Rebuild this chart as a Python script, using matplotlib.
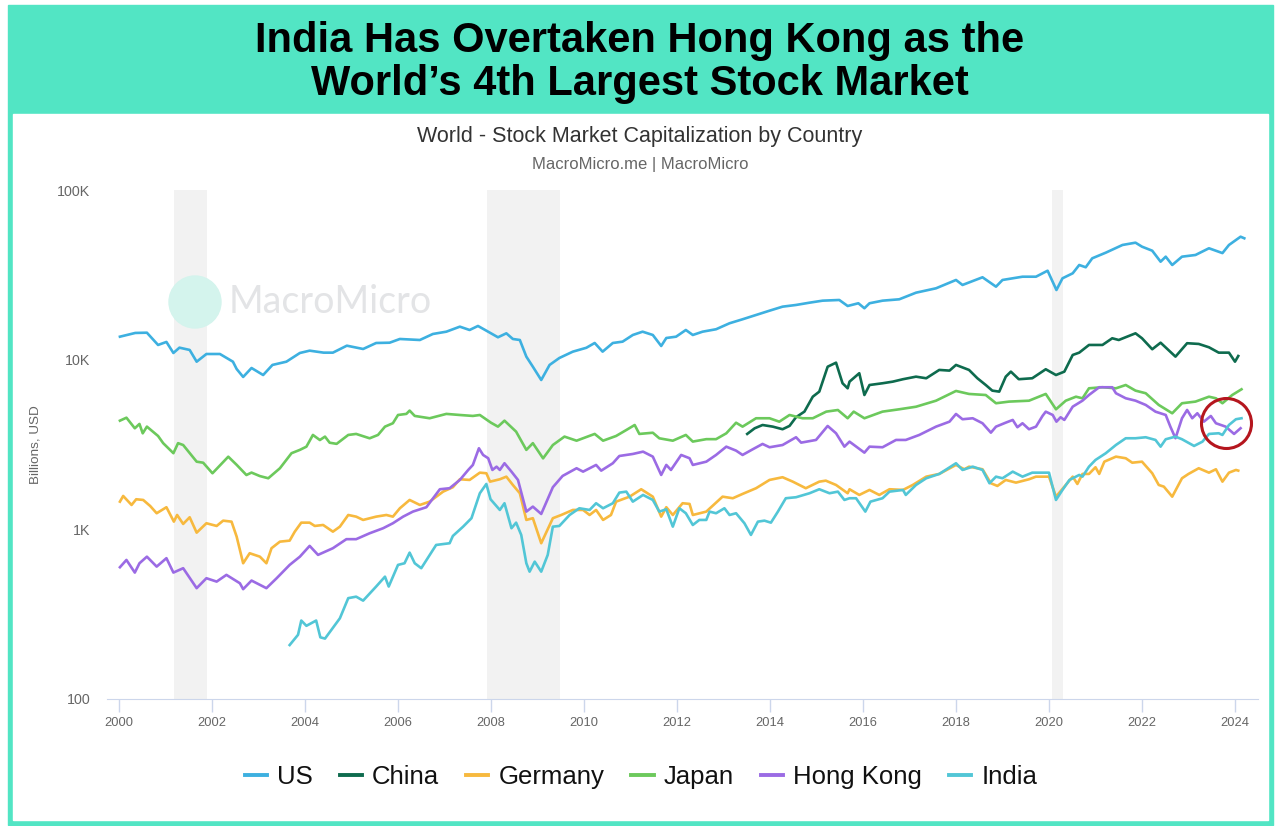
import matplotlib
matplotlib.use("Agg")
import matplotlib.pyplot as plt
from matplotlib.patches import Rectangle, Ellipse
from matplotlib.lines import Line2D
from matplotlib.ticker import NullLocator

plt.rcParams['font.family'] = ['Liberation Sans', 'DejaVu Sans']

# ---- data (billions USD; x = decimal year) ----
us_year = [2000.02, 2000.35, 2000.6, 2000.84, 2001.02, 2001.17, 2001.3, 2001.52, 2001.67, 2001.88,
           2002.17, 2002.45, 2002.53, 2002.67, 2002.85, 2003.1, 2003.3, 2003.6, 2003.89, 2004.1,
           2004.4, 2004.6, 2004.9, 2005.25, 2005.53, 2005.82, 2006.04, 2006.47, 2006.75, 2007.04,
           2007.33, 2007.54, 2007.72, 2007.9, 2008.15, 2008.33, 2008.47, 2008.62, 2008.76, 2008.9,
           2009.08, 2009.26, 2009.47, 2009.76, 2010.05, 2010.23, 2010.4, 2010.62, 2010.83, 2011.05,
           2011.26, 2011.48, 2011.66, 2011.77, 2011.98, 2012.19, 2012.34, 2012.55, 2012.84, 2013.13,
           2013.41, 2013.7, 2013.99, 2014.27, 2014.56, 2014.85, 2015.13, 2015.49, 2015.67, 2015.9,
           2016.03, 2016.14, 2016.42, 2016.78, 2017.14, 2017.57, 2018.0, 2018.14, 2018.57, 2018.86,
           2019.0, 2019.22, 2019.43, 2019.72, 2019.97, 2020.16, 2020.29, 2020.51, 2020.65, 2020.79,
           2020.93, 2021.22, 2021.58, 2021.86, 2022.0, 2022.22, 2022.4, 2022.51, 2022.65, 2022.86,
           2023.15, 2023.44, 2023.73, 2023.87, 2024.12, 2024.2]
us_val = [13660, 14370, 14420, 12210, 12720, 10950, 11770, 11410, 9730, 10800,
          10800, 9730, 8810, 7910, 8930, 8120, 9310, 9730, 10950, 11300,
          11000, 11000, 12090, 11560, 12540, 12590, 13240, 13060, 14170, 14620,
          15650, 14960, 15800, 14820, 13550, 14300, 13240, 13060, 10420, 9090,
          7590, 9310, 10230, 11150, 11750, 12540, 11150, 12540, 12770, 13980,
          14620, 13980, 12040, 13420, 13660, 14960, 13980, 14620, 15110, 16390,
          17300, 18340, 19440, 20530, 21010, 21670, 22270, 22480, 20720, 21500,
          20090, 21500, 22270, 22690, 24820, 26340, 29490, 27560, 30590, 26930,
          29490, 30170, 30830, 30830, 33450, 25740, 30170, 32290, 36140, 35040,
          39580, 42710, 47420, 48930, 46340, 43880, 37800, 40460, 36140, 40460,
          41400, 45350, 42480, 47420, 53060, 51930]

china_year = [2013.51, 2013.67, 2013.84, 2014.06, 2014.27, 2014.42, 2014.56, 2014.74, 2014.92, 2015.06,
              2015.24, 2015.42, 2015.56, 2015.67, 2015.71, 2015.92, 2016.03, 2016.14, 2016.42, 2016.64,
              2016.86, 2017.14, 2017.36, 2017.64, 2017.86, 2018.0, 2018.28, 2018.46, 2018.64, 2018.78,
              2018.93, 2019.07, 2019.18, 2019.35, 2019.64, 2019.93, 2020.15, 2020.33, 2020.51, 2020.65,
              2020.86, 2021.15, 2021.36, 2021.5, 2021.86, 2022.0, 2022.22, 2022.4, 2022.72, 2022.97,
              2023.22, 2023.44, 2023.65, 2023.87, 2024.0, 2024.07]
china_val = [3650, 3940, 4120, 4030, 3890, 4070, 4580, 4940, 6050, 6480,
             9090, 9600, 7260, 6780, 7420, 8320, 6190, 7090, 7260, 7420,
             7670, 7940, 7770, 8700, 8620, 9310, 8700, 7770, 7090, 6570,
             6480, 7940, 8500, 7670, 7770, 8780, 8120, 8500, 10660, 11000,
             12210, 12210, 13370, 13060, 14300, 13370, 11520, 12590, 10420, 12500,
             12380, 11830, 11000, 11000, 9730, 10510]

germany_year = [2000.02, 2000.09, 2000.27, 2000.37, 2000.52, 2000.67, 2000.81, 2001.02, 2001.18, 2001.25,
                2001.38, 2001.52, 2001.67, 2001.88, 2002.1, 2002.24, 2002.42, 2002.53, 2002.6, 2002.67,
                2002.81, 2003.03, 2003.17, 2003.28, 2003.46, 2003.67, 2003.78, 2003.92, 2004.1, 2004.21,
                2004.39, 2004.6, 2004.75, 2004.93, 2005.1, 2005.25, 2005.53, 2005.75, 2005.89, 2006.04,
                2006.25, 2006.47, 2006.68, 2006.97, 2007.18, 2007.33, 2007.54, 2007.76, 2007.9, 2007.98,
                2008.19, 2008.33, 2008.47, 2008.62, 2008.76, 2008.9, 2009.08, 2009.33, 2009.51, 2009.76,
                2009.98, 2010.12, 2010.26, 2010.41, 2010.58, 2010.69, 2010.98, 2011.23, 2011.48, 2011.66,
                2011.77, 2011.91, 2012.12, 2012.27, 2012.34, 2012.63, 2012.98, 2013.2, 2013.41, 2013.7,
                2013.99, 2014.27, 2014.49, 2014.77, 2015.06, 2015.2, 2015.42, 2015.67, 2015.71, 2015.92,
                2016.14, 2016.35, 2016.57, 2016.86, 2017.07, 2017.36, 2017.64, 2018.0, 2018.18, 2018.28,
                2018.57, 2018.75, 2018.89, 2019.07, 2019.29, 2019.57, 2019.72, 2020.0, 2020.15, 2020.36,
                2020.51, 2020.61, 2020.72, 2020.86, 2021.0, 2021.08, 2021.19, 2021.44, 2021.65, 2021.79,
                2022.0, 2022.22, 2022.36, 2022.47, 2022.65, 2022.86, 2023.0, 2023.22, 2023.44, 2023.59,
                2023.73, 2023.87, 2024.02, 2024.07]
germany_val = [1456, 1573, 1392, 1504, 1490, 1373, 1244, 1350, 1110, 1215,
               1076, 1178, 956, 1086, 1047, 1125, 1110, 906, 756, 631,
               723, 690, 631, 774, 846, 858, 969, 1095, 1095, 1047,
               1061, 969, 1037, 1215, 1188, 1136, 1188, 1215, 1188, 1331,
               1490, 1392, 1456, 1668, 1771, 1973, 1955, 2158, 2141, 1910,
               1973, 2044, 1826, 1632, 1136, 1163, 828, 1163, 1215, 1301,
               1301, 1215, 1301, 1136, 1215, 1456, 1558, 1723, 1558, 1188,
               1350, 1215, 1425, 1412, 1215, 1272, 1558, 1525, 1617, 1747,
               1955, 2028, 1910, 1747, 1910, 1936, 1826, 1632, 1723, 1595,
               1707, 1595, 1723, 1707, 1826, 2044, 2121, 2396, 2260, 2341,
               2260, 1869, 1802, 1955, 1885, 1973, 2044, 2044, 1558, 1826,
               2044, 1851, 2121, 2121, 2322, 2121, 2505, 2682, 2624, 2470,
               2505, 2141, 1826, 1785, 1558, 2000, 2121, 2291, 2158, 2260,
               1910, 2158, 2239, 2218]

japan_year = [2000.02, 2000.16, 2000.34, 2000.44, 2000.51, 2000.6, 2000.84, 2000.95, 2001.17, 2001.27,
              2001.38, 2001.67, 2001.81, 2002.01, 2002.35, 2002.53, 2002.74, 2002.85, 2003.03, 2003.21,
              2003.46, 2003.71, 2003.89, 2004.03, 2004.17, 2004.32, 2004.43, 2004.53, 2004.68, 2004.93,
              2005.1, 2005.39, 2005.57, 2005.72, 2005.89, 2006.0, 2006.18, 2006.25, 2006.36, 2006.68,
              2007.04, 2007.33, 2007.61, 2007.76, 2008.0, 2008.15, 2008.29, 2008.54, 2008.76, 2008.9,
              2009.12, 2009.33, 2009.58, 2009.84, 2010.23, 2010.41, 2010.69, 2010.91, 2011.09, 2011.19,
              2011.48, 2011.62, 2011.91, 2012.19, 2012.34, 2012.63, 2012.84, 2013.06, 2013.27, 2013.41,
              2013.7, 2013.99, 2014.2, 2014.42, 2014.7, 2014.92, 2015.21, 2015.46, 2015.67, 2015.8,
              2016.03, 2016.42, 2016.78, 2017.14, 2017.57, 2018.0, 2018.28, 2018.64, 2018.86, 2019.14,
              2019.57, 2019.93, 2020.15, 2020.36, 2020.58, 2020.72, 2020.86, 2021.15, 2021.44, 2021.65,
              2021.86, 2022.08, 2022.36, 2022.65, 2022.86, 2023.15, 2023.44, 2023.59, 2023.73, 2023.94,
              2024.14]
japan_val = [4370, 4550, 3940, 4180, 3680, 4030, 3550, 3220, 2810, 3220,
             3140, 2505, 2470, 2140, 2680, 2400, 2090, 2160, 2060, 2000,
             2290, 2810, 2940, 3070, 3600, 3360, 3520, 3240, 3190, 3600,
             3650, 3440, 3600, 4030, 4220, 4720, 4790, 5010, 4660, 4515,
             4790, 4720, 4660, 4720, 4250, 4030, 4370, 3765, 2940, 3220,
             2620, 3140, 3520, 3330, 3650, 3330, 3550, 3850, 4120, 3650,
             3710, 3440, 3330, 3600, 3290, 3400, 3400, 3680, 4250, 4030,
             4515, 4515, 4310, 4720, 4515, 4515, 4940, 5050, 4515, 4940,
             4515, 4940, 5100, 5280, 5730, 6540, 6280, 6190, 5535, 5660,
             5730, 6280, 5100, 5730, 6050, 5920, 6780, 6880, 6780, 7090,
             6570, 6340, 5410, 4830, 5535, 5660, 6050, 5920, 5535, 6190,
             6690]

hk_year = [2000.02, 2000.16, 2000.34, 2000.44, 2000.6, 2000.81, 2001.02, 2001.17, 2001.38, 2001.67,
           2001.88, 2002.1, 2002.31, 2002.6, 2002.67, 2002.85, 2003.17, 2003.39, 2003.67, 2003.89,
           2004.1, 2004.28, 2004.6, 2004.89, 2005.1, 2005.39, 2005.68, 2005.89, 2006.11, 2006.32,
           2006.61, 2006.9, 2007.11, 2007.33, 2007.51, 2007.61, 2007.74, 2007.83, 2007.94, 2008.03,
           2008.12, 2008.19, 2008.29, 2008.44, 2008.58, 2008.76, 2008.9, 2009.08, 2009.33, 2009.54,
           2009.84, 2009.98, 2010.26, 2010.37, 2010.62, 2010.76, 2011.05, 2011.27, 2011.48, 2011.66,
           2011.77, 2011.87, 2012.09, 2012.27, 2012.34, 2012.63, 2012.84, 2013.06, 2013.27, 2013.41,
           2013.63, 2013.84, 2013.99, 2014.27, 2014.56, 2014.67, 2014.99, 2015.24, 2015.42, 2015.6,
           2015.71, 2016.03, 2016.14, 2016.42, 2016.71, 2016.92, 2017.21, 2017.57, 2017.86, 2018.0,
           2018.14, 2018.36, 2018.57, 2018.75, 2018.86, 2019.07, 2019.22, 2019.32, 2019.43, 2019.57,
           2019.72, 2019.86, 2019.93, 2020.08, 2020.16, 2020.25, 2020.33, 2020.51, 2020.72, 2020.86,
           2021.08, 2021.36, 2021.44, 2021.65, 2021.86, 2022.08, 2022.29, 2022.51, 2022.61, 2022.72,
           2022.86, 2022.97, 2023.08, 2023.19, 2023.33, 2023.48, 2023.59, 2023.8, 2023.98, 2024.12]
hk_val = [598, 660, 556, 631, 690, 603, 676, 556, 590, 450,
          515, 492, 539, 481, 444, 499, 450, 515, 617, 690,
          799, 707, 774, 875, 875, 948, 1015, 1086, 1188, 1272,
          1350, 1723, 1747, 1955, 2239, 2396, 3005, 2744, 2624, 2239,
          2341, 2239, 2452, 2188, 1955, 1272, 1361, 1232, 1771, 2064,
          2291, 2188, 2396, 2218, 2452, 2706, 2781, 2870, 2682, 2092,
          2396, 2239, 2744, 2624, 2396, 2505, 2744, 3071, 2910, 2744,
          2965, 3186, 3046, 3140, 3489, 3243, 3364, 4067, 3684, 3071,
          3287, 2831, 3071, 3046, 3364, 3364, 3600, 4029, 4311, 4786,
          4455, 4515, 4219, 3714, 4029, 4254, 4413, 3997, 4219, 3890,
          4029, 4658, 4938, 4721, 4311, 4577, 4413, 5284, 5733, 6194,
          6877, 6877, 6339, 5922, 5733, 5409, 4938, 4721, 4029, 3442,
          4515, 5053, 4515, 4832, 4311, 4658, 4219, 4029, 3650, 3943]

india_year = [2003.67, 2003.85, 2003.92, 2004.03, 2004.24, 2004.33, 2004.43, 2004.75, 2004.93, 2005.1,
              2005.25, 2005.53, 2005.72, 2005.8, 2006.0, 2006.14, 2006.25, 2006.36, 2006.5, 2006.82,
              2007.11, 2007.18, 2007.4, 2007.58, 2007.76, 2007.9, 2007.99, 2008.19, 2008.29, 2008.44,
              2008.54, 2008.65, 2008.76, 2008.83, 2008.94, 2009.08, 2009.22, 2009.33, 2009.47, 2009.69,
              2009.9, 2010.12, 2010.26, 2010.41, 2010.62, 2010.76, 2010.91, 2011.05, 2011.27, 2011.48,
              2011.62, 2011.77, 2011.91, 2012.05, 2012.19, 2012.34, 2012.48, 2012.63, 2012.7, 2012.84,
              2013.02, 2013.13, 2013.27, 2013.45, 2013.59, 2013.74, 2013.88, 2014.02, 2014.17, 2014.34,
              2014.56, 2014.85, 2015.06, 2015.28, 2015.46, 2015.6, 2015.71, 2015.85, 2016.05, 2016.16,
              2016.42, 2016.57, 2016.86, 2016.92, 2017.14, 2017.36, 2017.64, 2018.0, 2018.14, 2018.36,
              2018.57, 2018.72, 2018.86, 2019.0, 2019.22, 2019.43, 2019.64, 2020.0, 2020.15, 2020.29,
              2020.44, 2020.65, 2020.72, 2020.86, 2021.0, 2021.22, 2021.44, 2021.65, 2021.86, 2022.08,
              2022.29, 2022.4, 2022.51, 2022.72, 2022.86, 2023.12, 2023.3, 2023.44, 2023.65, 2023.73,
              2023.87, 2024.02, 2024.14]
india_val = [208, 239, 290, 270, 290, 231, 227, 299, 393, 401,
             380, 460, 526, 460, 617, 631, 729, 631, 590, 809,
             828, 914, 1037, 1163, 1632, 1851, 1504, 1301, 1425, 1015,
             1095, 927, 631, 563, 645, 563, 707, 1037, 1047, 1215,
             1331, 1301, 1425, 1331, 1425, 1646, 1668, 1456, 1595, 1490,
             1272, 1313, 1037, 1331, 1244, 1061, 1136, 1136, 1272, 1244,
             1331, 1215, 1244, 1086, 927, 1110, 1125, 1095, 1272, 1525,
             1546, 1632, 1723, 1632, 1668, 1490, 1525, 1525, 1272, 1456,
             1525, 1668, 1707, 1595, 1826, 2000, 2121, 2452, 2239, 2341,
             2239, 1869, 2044, 2000, 2188, 2044, 2158, 2158, 1490, 1707,
             1955, 2092, 2044, 2341, 2564, 2808, 3143, 3442, 3442, 3489,
             3364, 3071, 3396, 3518, 3396, 3101, 3287, 3650, 3684, 3600,
             4123, 4455, 4515]

series_names = ['US', 'China', 'Germany', 'Japan', 'Hong Kong', 'India']
series_years = [us_year, china_year, germany_year, japan_year, hk_year, india_year]
series_vals = [us_val, china_val, germany_val, japan_val, hk_val, india_val]
series_colors = ['#3db0e0', '#0e6b4e', '#f7b93e', '#6cc95c', '#9b6be4', '#52c6d6']

# recession bands (start, end)
recessions = [(2001.18, 2001.89), (2007.91, 2009.48), (2020.07, 2020.3)]

# highlighted point (India passing Hong Kong)
hl_year = 2023.81
hl_value = 4240

x_ticks = list(range(2000, 2025, 2))
y_ticks = [100, 1000, 10000, 100000]
y_ticklabels = ['100', '1K', '10K', '100K']

# ---- figure ----
W, H = 1280, 826
fig = plt.figure(figsize=(W / 100, H / 100), dpi=100)


def fx(px):
    return px / W


def fy(py):
    return 1 - py / H


teal = '#52e5c4'
fig.patches.append(Rectangle((fx(8), fy(825)), fx(1273) - fx(8), fy(5) - fy(825),
                             transform=fig.transFigure, color=teal, zorder=-3))
fig.patches.append(Rectangle((fx(13), fy(820)), fx(1268) - fx(13), fy(114) - fy(820),
                             transform=fig.transFigure, color='white', zorder=-2))

fig.text(0.5, fy(52), 'India Has Overtaken Hong Kong as the', ha='center', va='baseline',
         fontsize=30, fontweight='bold', color='black')
fig.text(0.5, fy(95), 'World\u2019s 4th Largest Stock Market', ha='center', va='baseline',
         fontsize=30, fontweight='bold', color='black')

fig.text(0.5, fy(142), 'World - Stock Market Capitalization by Country', ha='center',
         va='baseline', fontsize=15.5, color='#333333')
fig.text(0.5, fy(169), 'MacroMicro.me | MacroMicro', ha='center', va='baseline',
         fontsize=12, color='#666666')

ax = fig.add_axes([fx(107), fy(699), fx(1258) - fx(107), fy(190) - fy(699)])
ax.set_facecolor('none')

# watermark
ax.add_patch(Ellipse((fx(195), fy(302)), 52 / W, 52 / H, transform=fig.transFigure,
                     color='#d4f4ed', zorder=0.5, clip_on=False))
ax.text(fx(229), fy(302), 'MacroMicro', transform=fig.transFigure, ha='left', va='center',
        fontsize=27, color='#e3e4e6', family=['Lato', 'DejaVu Sans'], zorder=0.5)

for a, b in recessions:
    ax.axvspan(a, b, color='#f2f2f2', lw=0, zorder=0.3)

for name, xs, ys, c in zip(series_names, series_years, series_vals, series_colors):
    ax.plot(xs, ys, color=c, lw=1.9, zorder=2, label=name)

ax.plot([hl_year], [hl_value], marker='o', ms=36, mfc='none', mec='#b5161e', mew=2.2,
        zorder=5, clip_on=False, ls='none')

ax.set_yscale('log')
ax.set_ylim(100, 100000)
ax.set_xlim(2000 - 12 / 46.5, 2024 + 23 / 46.5)
ax.set_yticks(y_ticks)
ax.set_yticklabels(y_ticklabels)
ax.yaxis.set_minor_locator(NullLocator())
ax.set_xticks(x_ticks)
ax.set_xticklabels([str(t) for t in x_ticks])

for s in ['top', 'right', 'left']:
    ax.spines[s].set_visible(False)
ax.spines['bottom'].set_color('#ccd6eb')
ax.tick_params(axis='y', length=0, pad=12, labelsize=10.3, labelcolor='#666666')
ax.tick_params(axis='x', length=9, width=1, color='#ccd6eb', pad=4,
               labelsize=9.3, labelcolor='#666666')

fig.text(fx(35), fy(445), 'Billions, USD', rotation=90, ha='center', va='center',
         fontsize=9.7, color='#666666')

handles = [Line2D([0], [0], color=c, lw=2.8) for c in series_colors]
ax.legend(handles, series_names, loc='center', bbox_to_anchor=(fx(641), fy(777)),
          bbox_transform=fig.transFigure, ncol=6, frameon=False, fontsize=18.5,
          handlelength=0.86, handletextpad=0.4, columnspacing=1.05, labelcolor='#111111')

fig.savefig('out.png', dpi=100)
